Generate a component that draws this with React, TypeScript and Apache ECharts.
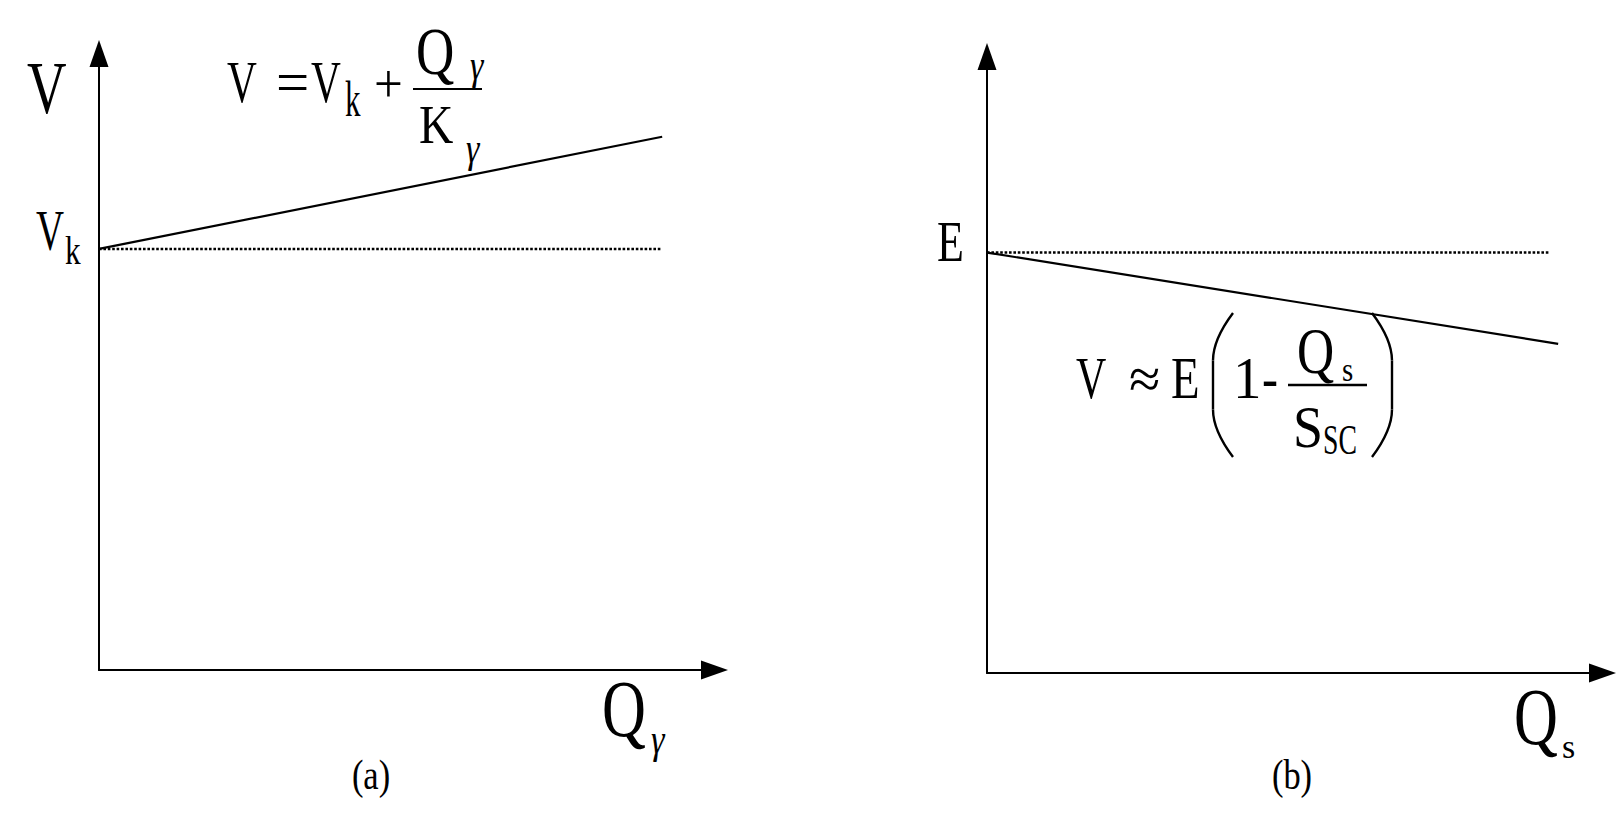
import React, { useEffect, useRef } from "react";
import * as echarts from "echarts";

// Panel (a): V vs Q_gamma  (axis units 0..100)
const qGamma = [0, 91.5];
const vLeft = [68.3, 86.5];
const vkLevel = [68.3, 68.3];
// Panel (b): V vs Q_s
const qS = [0, 92.8];
const vRight = [68.2, 53.4];
const eLevelX = [0, 91.5];
const eLevel = [68.2, 68.2];

const FONT = '"Liberation Serif", "Times New Roman", serif';

type T = { s: string; x: number; b: number; size: number; sx: number; it?: boolean; align?: string };

const txt = (t: T) => ({
  type: "text",
  x: t.x,
  y: t.b - 0.3375 * t.size,
  scaleX: t.sx,
  silent: true,
  style: {
    text: t.s,
    x: 0,
    y: 0,
    fontSize: t.size,
    fontFamily: FONT,
    fontStyle: t.it ? "italic" : "normal",
    fill: "#000",
    align: t.align || "left",
    verticalAlign: "middle",
  },
});

const texts: T[] = [
  // panel a
  { s: "V", x: 27, b: 113, size: 74, sx: 0.74 },
  { s: "V", x: 36, b: 250, size: 58, sx: 0.67 },
  { s: "k", x: 65, b: 264, size: 40, sx: 0.78 },
  { s: "V", x: 227, b: 102, size: 60, sx: 0.69 },
  { s: "=", x: 276, b: 102, size: 59, sx: 1.0 },
  { s: "V", x: 311, b: 102, size: 60, sx: 0.69 },
  { s: "k", x: 345, b: 116, size: 50, sx: 0.62 },
  { s: "+", x: 374, b: 102, size: 55, sx: 0.93 },
  { s: "Q", x: 416, b: 74, size: 68, sx: 0.78 },
  { s: "γ", x: 470, b: 79, size: 40, sx: 0.85, it: true },
  { s: "K", x: 419, b: 143, size: 56, sx: 0.85 },
  { s: "γ", x: 466, b: 162, size: 40, sx: 0.85, it: true },
  { s: "Q", x: 602, b: 736, size: 80, sx: 0.76 },
  { s: "γ", x: 651, b: 753, size: 39, sx: 0.88, it: true },
  { s: "(a)", x: 371, b: 789, size: 42, sx: 0.82, align: "center" },
  // panel b
  { s: "E", x: 937, b: 261, size: 58, sx: 0.76 },
  { s: "V", x: 1076, b: 398, size: 60, sx: 0.7 },
  { s: "≈", x: 1129, b: 398, size: 57, sx: 1.0 },
  { s: "E", x: 1171, b: 398, size: 60, sx: 0.78 },
  { s: "1", x: 1233, b: 398, size: 60, sx: 0.95 },
  { s: "-", x: 1262, b: 398, size: 60, sx: 0.8 },
  { s: "Q", x: 1297, b: 373, size: 66, sx: 0.78 },
  { s: "s", x: 1342, b: 381, size: 34, sx: 0.85 },
  { s: "S", x: 1293, b: 447, size: 60, sx: 0.9 },
  { s: "SC", x: 1323, b: 454, size: 42, sx: 0.66 },
  { s: "Q", x: 1514, b: 744, size: 80, sx: 0.76 },
  { s: "s", x: 1562, b: 758, size: 34, sx: 1.0 },
  { s: "(b)", x: 1292, b: 789, size: 42, sx: 0.82, align: "center" },
];

const axisBase = (gridIndex: number) => ({
  gridIndex,
  type: "value" as const,
  min: 0,
  max: 100,
  axisLine: {
    show: true,
    onZero: false,
    symbol: ["none", "triangle"],
    symbolSize: [19, 27],
    lineStyle: { color: "#000", width: 2 },
  },
  axisTick: { show: false },
  axisLabel: { show: false },
  splitLine: { show: false },
});

// large delimiters drawn as thin curves
const paren = (xEdge: number, xMid: number, top: number, bottom: number) => {
  const st = { stroke: "#000", lineWidth: 2.4, fill: "none" };
  const span = bottom - top;
  const y1 = top + span * 0.33;
  const y2 = bottom - span * 0.33;
  return [
    { type: "bezierCurve", silent: true, shape: { x1: xEdge, y1: top, cpx1: xMid + (xEdge - xMid) * 0.35, cpy1: top + span * 0.12, cpx2: xMid, cpy2: top + span * 0.22, x2: xMid, y2: y1 }, style: st },
    { type: "line", silent: true, shape: { x1: xMid, y1, x2: xMid, y2 }, style: st },
    { type: "bezierCurve", silent: true, shape: { x1: xEdge, y1: bottom, cpx1: xMid + (xEdge - xMid) * 0.35, cpy1: bottom - span * 0.12, cpx2: xMid, cpy2: bottom - span * 0.22, x2: xMid, y2: y2 }, style: st },
  ];
};

export default function App() {
  const ref = useRef<HTMLDivElement>(null);
  useEffect(() => {
    if (!ref.current) return;
    const chart = echarts.init(ref.current, undefined, { renderer: "svg" });
    const pair = (xs: number[], ys: number[]) => xs.map((x, i) => [x, ys[i]]);
    chart.setOption({
      animation: false,
      backgroundColor: "#fff",
      grid: [
        { left: 99, top: 53.5, width: 615.5, height: 616.5 },
        { left: 987, top: 56.5, width: 615.5, height: 616.5 },
      ],
      xAxis: [axisBase(0), axisBase(1)],
      yAxis: [axisBase(0), axisBase(1)],
      series: [
        {
          type: "line", xAxisIndex: 0, yAxisIndex: 0, symbol: "none",
          data: pair(qGamma, vLeft), lineStyle: { color: "#000", width: 2.2 },
        },
        {
          type: "line", xAxisIndex: 0, yAxisIndex: 0, symbol: "none",
          data: pair(qGamma, vkLevel), lineStyle: { color: "#000", width: 2.6, type: [2.6, 1.8] },
        },
        {
          type: "line", xAxisIndex: 1, yAxisIndex: 1, symbol: "none",
          data: pair(qS, vRight), lineStyle: { color: "#000", width: 2.2 },
        },
        {
          type: "line", xAxisIndex: 1, yAxisIndex: 1, symbol: "none",
          data: pair(eLevelX, eLevel), lineStyle: { color: "#000", width: 2.6, type: [2.6, 1.8] },
        },
      ],
      graphic: [
        { type: "line", shape: { x1: 413, y1: 89, x2: 482, y2: 89 }, style: { stroke: "#000", lineWidth: 2 } },
        { type: "line", shape: { x1: 1288, y1: 385, x2: 1367, y2: 385 }, style: { stroke: "#000", lineWidth: 2.5 } },
        ...paren(1233, 1213, 313, 457),
        ...paren(1372, 1392, 313, 457),
        ...texts.map(txt),
      ],
    });
    return () => chart.dispose();
  }, []);
  return (
    <div
      ref={ref}
      style={{ position: "fixed", left: 0, top: 0, width: 1622, height: 825, background: "#fff" }}
    />
  );
}
